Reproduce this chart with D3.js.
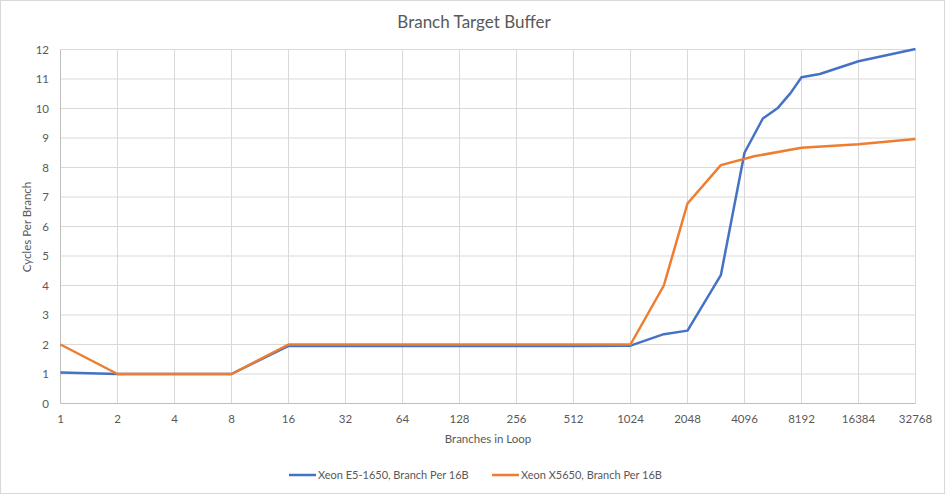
<!DOCTYPE html>
<html>
<head>
<meta charset="utf-8">
<script src="https://cdn.jsdelivr.net/npm/d3@7"></script>
<style>
  body { margin: 0; background: #fff; }
  text { font-family: Lato, "Open Sans", sans-serif; fill: #595959; }
</style>
</head>
<body>
<svg id="chart" width="945" height="494"></svg>
<script>
// data
const blueName = "Xeon E5-1650, Branch Per 16B";
const blueX = [1, 2, 4, 8, 16, 32, 64, 128, 256, 512, 1024, 1536, 2048, 3072, 4096, 5120, 6144, 7168, 8192, 10240, 16384, 32768];
const blueY = [1.05, 1.0, 1.0, 1.0, 1.95, 1.95, 1.95, 1.95, 1.95, 1.95, 1.96, 2.35, 2.47, 4.35, 8.5, 9.66, 10.02, 10.52, 11.06, 11.17, 11.6, 12.02];

const orangeName = "Xeon X5650, Branch Per 16B";
const orangeX = [1, 2, 4, 8, 16, 32, 64, 128, 256, 512, 1024, 1536, 2048, 3072, 4608, 8192, 16384, 32768];
const orangeY = [2.0, 1.0, 1.0, 1.0, 2.0, 2.0, 2.0, 2.0, 2.0, 2.0, 2.0, 4.0, 6.78, 8.08, 8.38, 8.67, 8.79, 8.97];

const xTicks = [1, 2, 4, 8, 16, 32, 64, 128, 256, 512, 1024, 2048, 4096, 8192, 16384, 32768];
const yTicks = [0, 1, 2, 3, 4, 5, 6, 7, 8, 9, 10, 11, 12];

const svg = d3.select("#chart");

// outer chart border
svg.append("rect")
  .attr("x", 0.5).attr("y", 0.5)
  .attr("width", 944).attr("height", 493)
  .attr("fill", "#fff").attr("stroke", "#d9d9d9");

const x = d3.scaleLog().base(2).domain([1, 32768]).range([60.5, 915.5]);
const y = d3.scaleLinear().domain([0, 12]).range([403.5, 49.5]);

// gridlines
svg.append("g")
  .selectAll("line.h")
  .data(yTicks.slice(1))
  .enter().append("line")
  .attr("x1", x(1)).attr("x2", x(32768))
  .attr("y1", d => y(d)).attr("y2", d => y(d))
  .attr("stroke", "#d9d9d9");
svg.append("g")
  .selectAll("line.v")
  .data(xTicks.slice(1))
  .enter().append("line")
  .attr("x1", d => x(d)).attr("x2", d => x(d))
  .attr("y1", y(0)).attr("y2", y(12))
  .attr("stroke", "#d9d9d9");

// axis lines
svg.append("line")
  .attr("x1", x(1)).attr("x2", x(32768))
  .attr("y1", y(0)).attr("y2", y(0))
  .attr("stroke", "#bfbfbf");
svg.append("line")
  .attr("x1", x(1)).attr("x2", x(1))
  .attr("y1", y(0)).attr("y2", y(12))
  .attr("stroke", "#bfbfbf");

// tick labels
svg.append("g")
  .selectAll("text")
  .data(yTicks)
  .enter().append("text")
  .attr("x", 49)
  .attr("y", d => y(d))
  .attr("dy", "0.35em")
  .attr("text-anchor", "end")
  .style("font-size", "11.5px")
  .text(d => d);
svg.append("g")
  .selectAll("text")
  .data(xTicks)
  .enter().append("text")
  .attr("x", d => x(d))
  .attr("y", 419)
  .attr("dy", "0.35em")
  .attr("text-anchor", "middle")
  .style("font-size", "11.5px")
  .text(d => d);

// titles
svg.append("text")
  .attr("x", 474).attr("y", 22).attr("dy", "0.35em")
  .attr("text-anchor", "middle")
  .style("font-size", "17px")
  .text("Branch Target Buffer");
svg.append("text")
  .attr("x", 488).attr("y", 439).attr("dy", "0.35em")
  .attr("text-anchor", "middle")
  .style("font-size", "11.5px")
  .text("Branches in Loop");
svg.append("text")
  .attr("transform", "translate(27,227) rotate(-90)")
  .attr("dy", "0.35em")
  .attr("text-anchor", "middle")
  .style("font-size", "11.5px")
  .text("Cycles Per Branch");

// series (orange drawn last, on top)
const line = d3.line().x(d => x(d[0])).y(d => y(d[1]));
const series = [
  { name: blueName, color: "#4472c4", pts: d3.zip(blueX, blueY) },
  { name: orangeName, color: "#ed7d31", pts: d3.zip(orangeX, orangeY) }
];
svg.append("g")
  .selectAll("path")
  .data(series)
  .enter().append("path")
  .attr("d", d => line(d.pts))
  .attr("fill", "none")
  .attr("stroke", d => d.color)
  .attr("stroke-width", 2.5)
  .attr("stroke-linejoin", "round");

// legend
const legendX = [289, 492];
const legend = svg.append("g")
  .selectAll("g")
  .data(series)
  .enter().append("g")
  .attr("transform", (d, i) => `translate(${legendX[i]},475)`);
legend.append("line")
  .attr("x1", 0).attr("x2", 27)
  .attr("stroke", d => d.color)
  .attr("stroke-width", 2.5);
legend.append("text")
  .attr("x", 29).attr("dy", "0.35em")
  .style("font-size", "11px")
  .text(d => d.name);
</script>
</body>
</html>
